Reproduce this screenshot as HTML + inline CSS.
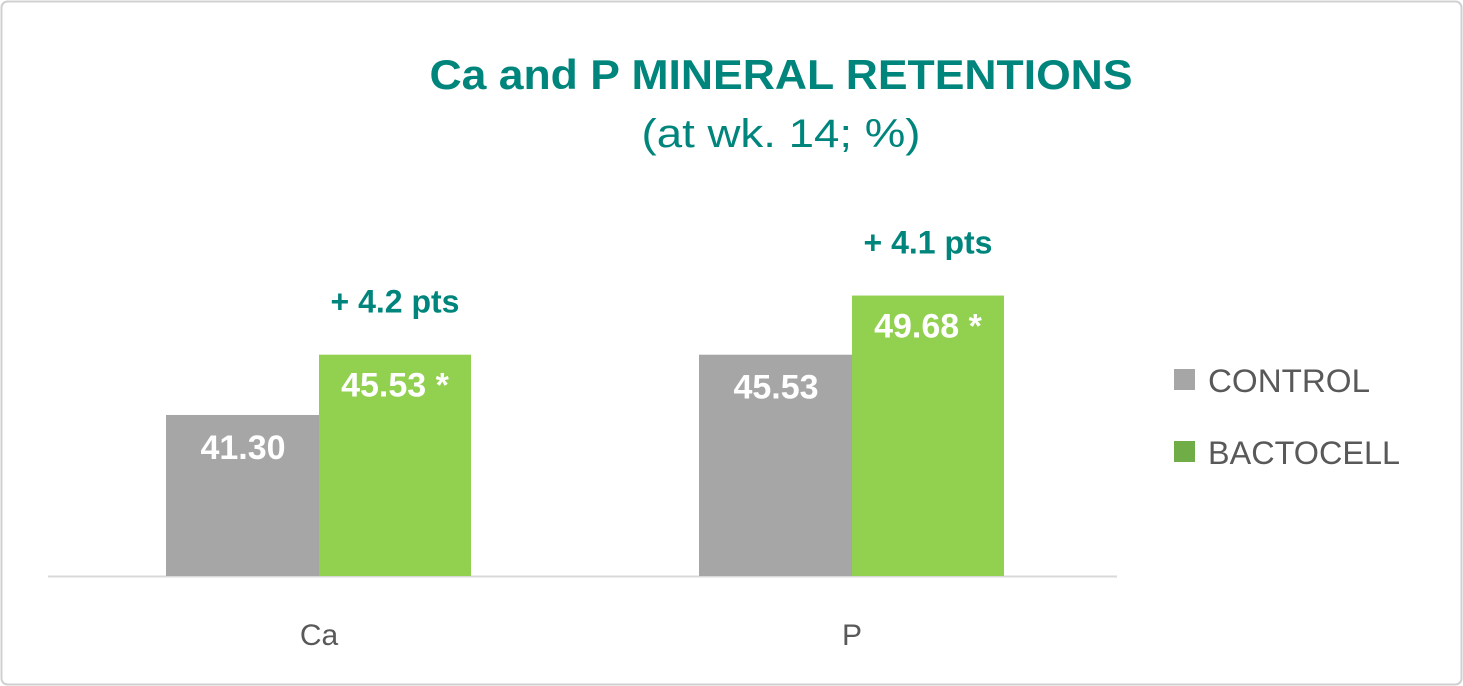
<!DOCTYPE html>
<html><head><meta charset="utf-8"><style>
body{margin:0;background:#fff;}
svg{display:block;font-family:"Liberation Sans",sans-serif;}
</style></head><body>
<svg id="chart" width="1463" height="686">
<rect x="1.5" y="1.5" width="1460" height="683" rx="6" fill="#fff" stroke="#d0d0d0" stroke-width="2"/>
<text x="781" y="89" text-anchor="middle" font-size="42" font-weight="bold" fill="#00857c" textLength="703" lengthAdjust="spacingAndGlyphs">Ca and P MINERAL RETENTIONS</text>
<text x="781" y="147" text-anchor="middle" font-size="40" fill="#00857c" textLength="279" lengthAdjust="spacingAndGlyphs">(at wk. 14;  %)</text>
<line x1="48" y1="576.5" x2="1117" y2="576.5" stroke="#d9d9d9" stroke-width="2"/>
<g id="bars"></g>
<rect x="1174" y="369" width="21" height="21" fill="#a6a6a6"/>
<text x="1208" y="392" font-size="32" fill="#595959" textLength="162" lengthAdjust="spacingAndGlyphs">CONTROL</text>
<rect x="1174" y="441" width="21" height="21" fill="#70ad47"/>
<text x="1208" y="464" font-size="32" fill="#595959" textLength="192" lengthAdjust="spacingAndGlyphs">BACTOCELL</text>
</svg>
<script>
const categories=["Ca","P"];
const controlValues=[41.30,45.53];
const bactocellValues=[45.53,49.68];
const controlLabels=["41.30","45.53"];
const bactocellLabels=["45.53 *","49.68 *"];
const diffLabels=["+ 4.2 pts","+ 4.1 pts"];
const yMin=30, pxPerUnit=14.25, base=576;
function y(v){return base-(v-yMin)*pxPerUnit;}
function cx(i){return 319+i*533;}
const g=document.getElementById('bars');
const NS="http://www.w3.org/2000/svg";
function mk(tag,attrs){const e=document.createElementNS(NS,tag);for(const k in attrs)e.setAttribute(k,attrs[k]);g.appendChild(e);return e;}
categories.forEach((c,i)=>{
  const c0=cx(i);
  let r=mk('rect',{x:c0-153,y:y(controlValues[i]),width:153,height:base-y(controlValues[i]),fill:'#a6a6a6'});
  
  
  r=mk('rect',{x:c0,y:y(bactocellValues[i]),width:152,height:base-y(bactocellValues[i]),fill:'#92d050'});
  
  
  let t=mk('text',{x:c0-76,y:y(controlValues[i])+44,'text-anchor':'middle','font-size':34,'font-weight':'bold',fill:'#fff'});
  t.textContent=controlLabels[i];
  
  
  t=mk('text',{x:c0+76,y:y(bactocellValues[i])+42,'text-anchor':'middle','font-size':34,'font-weight':'bold',fill:'#fff'});
  t.textContent=bactocellLabels[i];
  
  
  t=mk('text',{x:c0+76,y:y(bactocellValues[i])-42,'text-anchor':'middle','font-size':32,'font-weight':'bold',fill:'#00857c'});
  t.textContent=diffLabels[i];
  
  
  t=mk('text',{x:c0,y:645,'text-anchor':'middle','font-size':30,fill:'#595959'});
  t.textContent=c;
  
  
});
</script>
</body></html>
